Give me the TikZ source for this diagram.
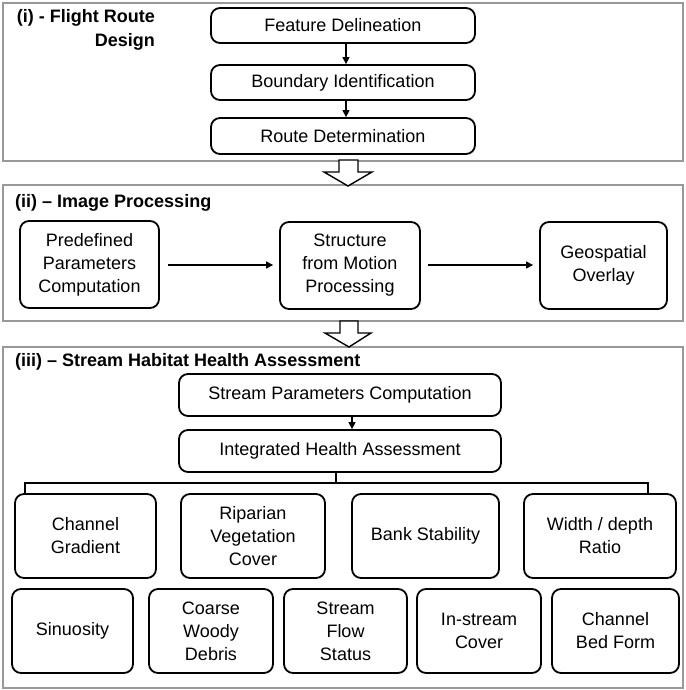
\documentclass[tikz,border=0pt]{standalone}
\usepackage{fontspec}
\setmainfont{Liberation Sans}
\usetikzlibrary{arrows.meta}
\begin{document}
\begin{tikzpicture}[x=1pt,y=-1pt,
  panel/.style={draw=black!40, line width=1.5pt},
  box/.style={draw=black, line width=1.8pt, rounded corners=9pt, align=center,
    font=\fontsize{18}{23}\selectfont, inner sep=0pt},
  arr/.style={-{Triangle[length=7pt,width=7pt]}, line width=1.3pt},
  tree/.style={line width=1.8pt},
  ttl/.style={font=\bfseries\fontsize{18}{24}\selectfont, inner sep=0pt},
  bigarrow/.style={draw=black, fill=white, line width=1.4pt, line join=miter}]
\useasboundingbox (0,0) rectangle (685,690);
\fill[white] (0,0) rectangle (685,690);

% ---- panels
\draw[panel] (3,3) rectangle (683,161);
\draw[panel] (3,185) rectangle (683,321);
\draw[panel] (3,347) rectangle (683,688);

% ---- big hollow arrows
\draw[bigarrow] (339,160) -- (358,160) -- (358,172) -- (372,172) -- (348,186)
  -- (324,172) -- (339,172) -- cycle;
\draw[bigarrow] (340,321) -- (358,321) -- (358,333) -- (371,333) -- (349,347)
  -- (325,333) -- (340,333) -- cycle;

% ---- panel (i)
\node[ttl, align=right, anchor=north east] (t1) at (155,9) {(i) - Flight Route\\Design};
\node[box, minimum width=264pt, minimum height=35pt] (fd) at (343,25.5) {Feature Delineation};
\node[box, minimum width=264pt, minimum height=35pt] (bi) at (343,82.5) {Boundary Identification};
\node[box, minimum width=264pt, minimum height=36pt] (rd) at (343,136) {Route Determination};
\draw[arr] ([xshift=3pt]fd.south) -- ([xshift=3pt]bi.north);
\draw[arr] ([xshift=3pt]bi.south) -- ([xshift=3pt]rd.north);

% ---- panel (ii)
\node[ttl, anchor=west] (t2) at (15,203) {(ii) -- Image Processing};
\node[box, minimum width=139pt, minimum height=87pt] (pp) at (89.5,264.5) {Predefined\\Parameters\\Computation};
\node[box, minimum width=140pt, minimum height=87pt] (sfm) at (350,265.5) {Structure\\from Motion\\Processing};
\node[box, minimum width=127pt, minimum height=87pt] (geo) at (603.5,265.5) {Geospatial\\Overlay};
\draw[arr] ([xshift=8pt]pp.east |- 0,265) -- ([xshift=-6pt]sfm.west |- 0,265);
\draw[arr] ([xshift=7pt]sfm.east |- 0,265) -- ([xshift=-6pt]geo.west |- 0,265);

% ---- panel (iii)
\node[ttl, anchor=west] (t3) at (15,362) {(iii) -- Stream Habitat Health Assessment};
\node[box, minimum width=322pt, minimum height=42pt] (spc) at (340,395) {Stream Parameters Computation};
\node[box, minimum width=322pt, minimum height=42pt] (iha) at (340,451) {Integrated Health Assessment};
\draw[arr] ([xshift=12pt]spc.south) -- ([xshift=12pt]iha.north);

\node[box, minimum width=141pt, minimum height=84pt] (cg)  at (85.5,536) {Channel\\Gradient};
\node[box, minimum width=144pt, minimum height=84pt] (rvc) at (253,536) {Riparian\\Vegetation\\Cover};
\node[box, minimum width=147pt, minimum height=84pt] (bs)  at (425.5,536) {Bank Stability};
\node[box, minimum width=152pt, minimum height=84pt] (wd)  at (600,536) {Width / depth\\Ratio};

\node[box, minimum width=121pt, minimum height=84pt] (sin) at (72.5,631) {Sinuosity};
\node[box, minimum width=124pt, minimum height=84pt] (cwd) at (211,631) {Coarse\\Woody\\Debris};
\node[box, minimum width=123pt, minimum height=84pt] (sfs) at (345.5,631) {Stream\\Flow\\Status};
\node[box, minimum width=124pt, minimum height=84pt] (isc) at (479,631) {In-stream\\Cover};
\node[box, minimum width=127pt, minimum height=84pt] (cbf) at (615.5,631) {Channel\\Bed Form};

\coordinate (hl) at (25,483);
\coordinate (hr) at (648,483);
\draw[tree] ([xshift=-4pt]iha.south) -- ([xshift=-4pt]iha.south |- hl);
\draw[tree] (hl |- cg.north) -- (hl) -- (hr) -- (hr |- wd.north);
\end{tikzpicture}
\end{document}
